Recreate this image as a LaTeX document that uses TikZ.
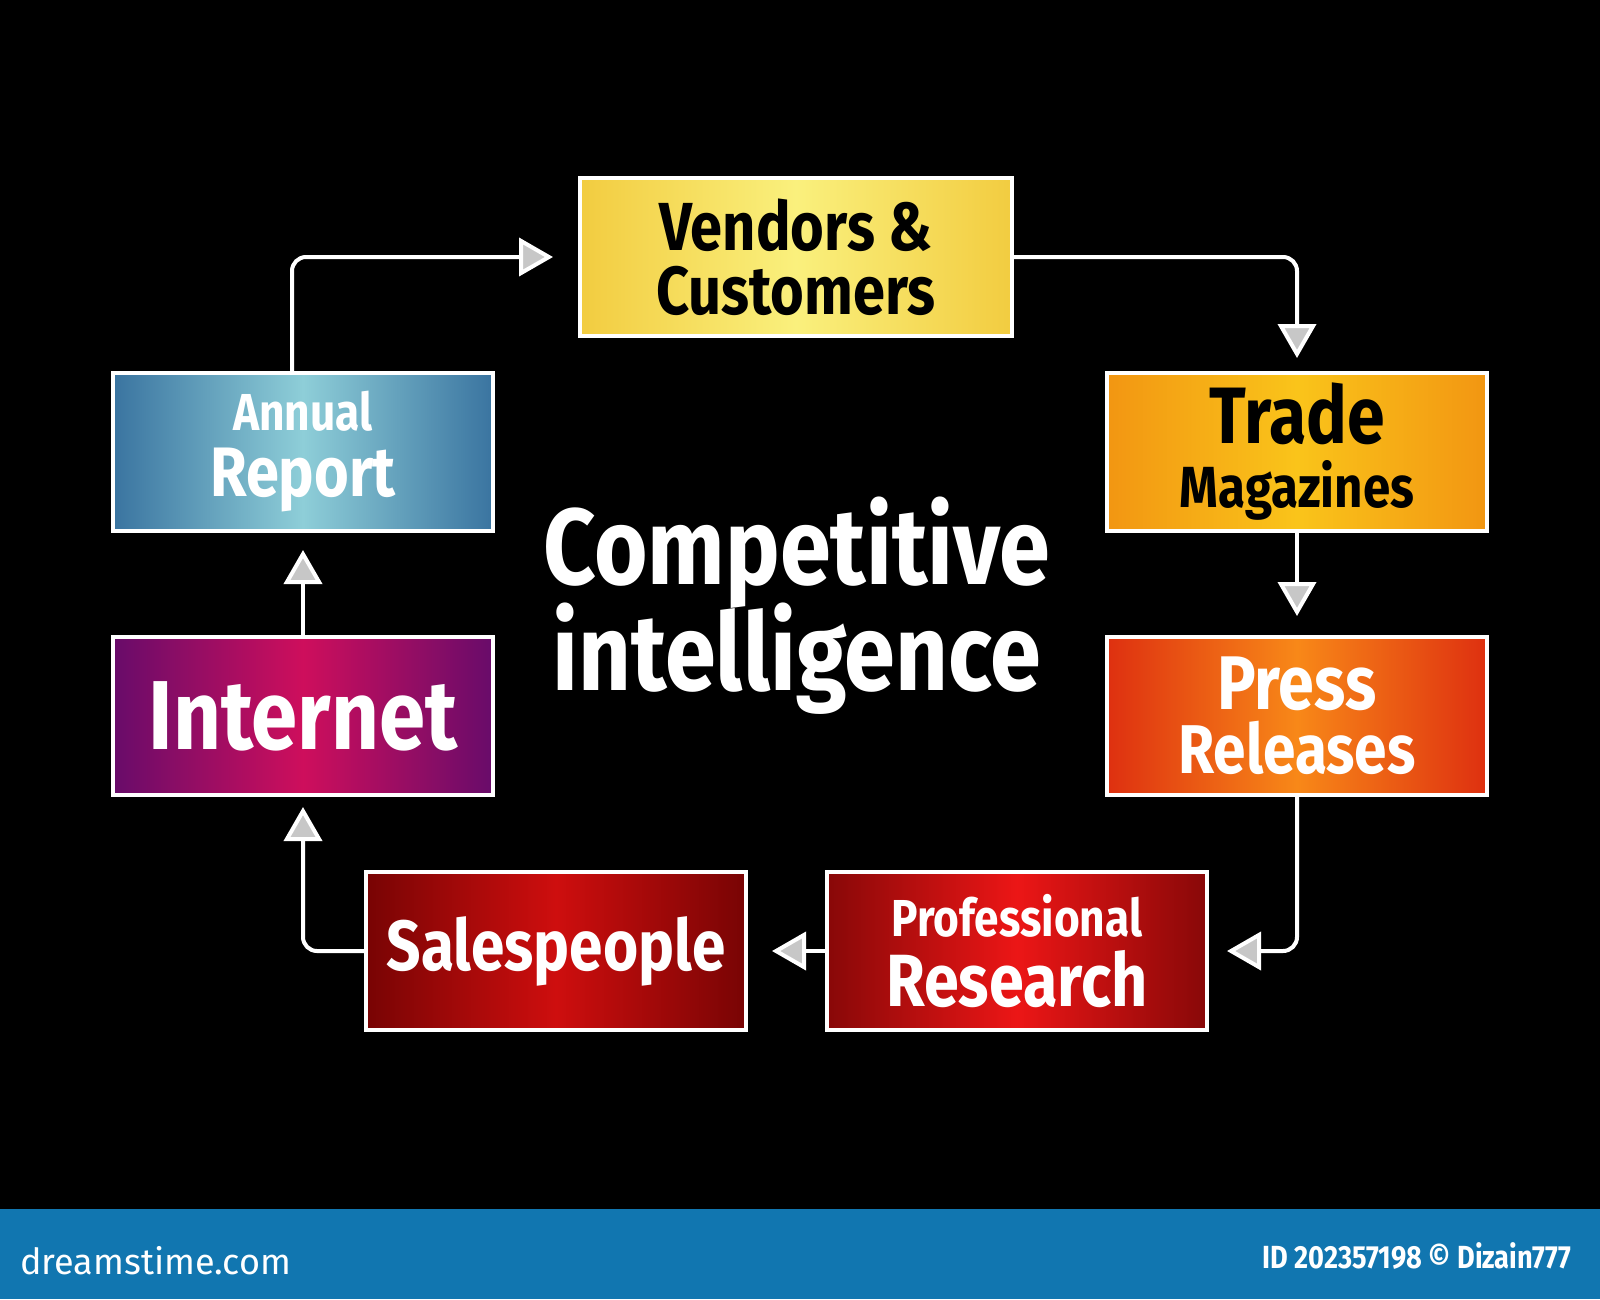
\documentclass[tikz,border=0pt]{standalone}
\usepackage{fontspec}
\setmainfont{Fira Sans}[FakeStretch=0.85]
\newfontfamily\logofont{Fira Sans}
\usetikzlibrary{arrows.meta}
\setlength{\lineskiplimit}{-300pt}

\definecolor{vendEdge}{RGB}{242,204,64}
\definecolor{vendMid}{RGB}{250,240,125}
\definecolor{tradeEdge}{RGB}{242,150,18}
\definecolor{tradeMid}{RGB}{250,196,26}
\definecolor{pressEdge}{RGB}{222,48,16}
\definecolor{pressMid}{RGB}{248,136,24}
\definecolor{resEdge}{RGB}{136,8,8}
\definecolor{resMid}{RGB}{236,22,22}
\definecolor{salesEdge}{RGB}{120,4,4}
\definecolor{salesMid}{RGB}{206,14,14}
\definecolor{netEdge}{RGB}{104,12,106}
\definecolor{netMid}{RGB}{206,14,92}
\definecolor{annEdge}{RGB}{58,116,160}
\definecolor{annMid}{RGB}{142,206,216}
\definecolor{barblue}{RGB}{17,118,176}

\begin{document}
\begin{tikzpicture}[x=1pt,y=-1pt]

\tikzset{box/.style = {draw=white, line width=4pt, inner sep=0pt, minimum width=380pt, minimum height=158pt, align=center}}
\tikzset{shade/.style n args = {2}{left color=#1, right color=#1, middle color=#2}}
\tikzset{flow/.style = {draw=white, line width=4pt, rounded corners=14pt, -{Triangle[length=34pt, width=38pt, fill=white!78!black]}}}

% background
\fill[black] (0,0) rectangle (1600,1299);
\useasboundingbox (0,0) rectangle (1600,1299);
\fill[barblue] (0,1209) rectangle (1600,1299);

% boxes
\node[box, shade={vendEdge}{vendMid}, minimum width=432pt, text=black, font=\bfseries\fontsize{68}{64}\selectfont] (vendors) at (796,257) {Vendors \&\\Customers};
\node[box, shade={tradeEdge}{tradeMid}, text=black, font=\bfseries\fontsize{58}{64}\selectfont] (trade) at (1297,452) {{\fontsize{80}{0}\selectfont Trade}\\Magazines};
\node[box, shade={pressEdge}{pressMid}, text=white, font=\bfseries\fontsize{69}{64}\selectfont] (press) at (1297,716) {{\fontsize{76}{0}\selectfont Press}\\Releases};
\node[box, shade={resEdge}{resMid}, text=white, font=\bfseries\fontsize{74}{70}\selectfont] (research) at (1017,951) {{\fontsize{52}{0}\selectfont Professional}\\Research};
\node[box, shade={salesEdge}{salesMid}, text=white, font=\bfseries\fontsize{71}{71}\selectfont] (sales) at (556,951) {Salespeople};
\node[box, shade={netEdge}{netMid}, text=white, font=\bfseries\fontsize{98}{98}\selectfont] (internet) at (303,716) {Internet};
\node[box, shade={annEdge}{annMid}, text=white, font=\bfseries\fontsize{70}{66}\selectfont] (annual) at (303,452) {{\fontsize{52}{0}\selectfont Annual}\\Report};

% title
\node[text=white, align=center, font=\bfseries\fontsize{108}{106}\selectfont] (title) at (797,606) {Competitive\\intelligence};

% edges
\draw[flow, shorten >=25pt] ([xshift=-11pt]annual.north) |- (vendors.west);
\draw[flow, shorten >=13pt] (vendors.east) -| (trade.north);
\draw[flow, shorten >=19pt] (trade.south) -- (press.north);
\draw[flow, shorten >=18pt] (press.south) |- (research.east);
\draw[flow, shorten >=24pt] (research.west) -- (sales.east);
\draw[flow, shorten >=10pt] (sales.west) -| (internet.south);
\draw[flow, shorten >=17pt] (internet.north) -- (annual.south);

% footer
\node[anchor=base west, text=white, inner sep=0pt, font=\logofont\fontsize{36}{36}\selectfont] (logo) at (20,1274) {dreamstime.com};
\node[anchor=base east, text=white, inner sep=0pt, font=\bfseries\fontsize{32}{32}\selectfont] (credit) at (1571,1268) {ID 202357198 © Dizain777};

\end{tikzpicture}
\end{document}
